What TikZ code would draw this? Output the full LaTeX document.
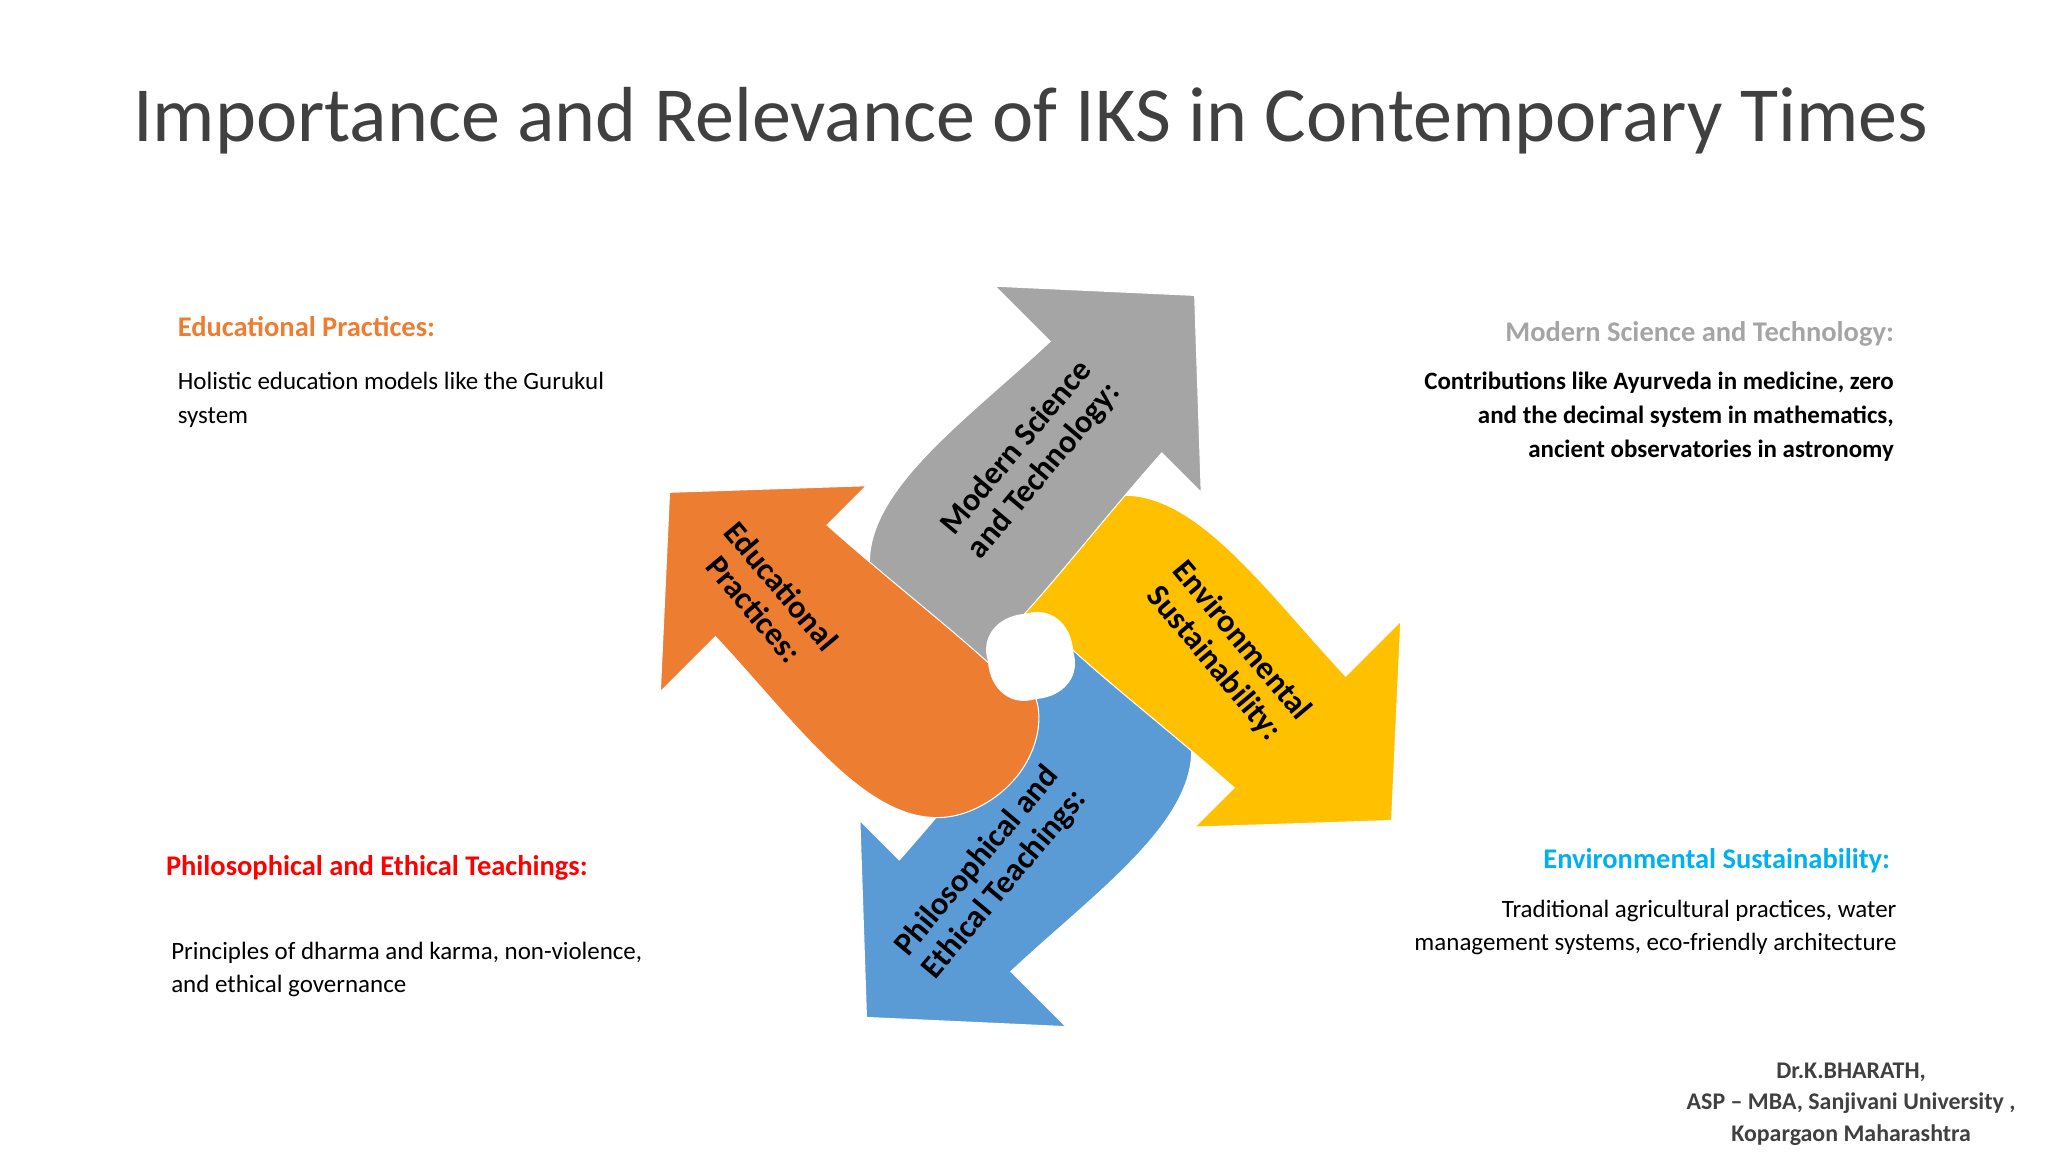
\documentclass[tikz,border=0pt]{standalone}
\usepackage{fontspec}
\setmainfont{Carlito}
\usetikzlibrary{positioning}
\definecolor{edorange}{HTML}{ED7D31}
\definecolor{scigray}{HTML}{A5A5A5}
\definecolor{envyellow}{HTML}{FFC000}
\definecolor{phiblue}{HTML}{5B9BD5}
\definecolor{envcyan}{HTML}{00B0F0}
\definecolor{titlegray}{HTML}{404040}
\tikzset{
  heading/.style={font=\fontsize{8.1}{9}\selectfont\bfseries},
  bodytext/.style={font=\fontsize{7.1}{9.6}\selectfont, text=black},
  arrowtext/.style={font=\fontsize{9.2}{10.2}\selectfont\bfseries, align=center, text=black},
  swirl/.style={draw=white, line width=0.3pt}
}
% one arrow of the pinwheel, in coordinates around the centre
\newcommand{\swirlarrow}{%
  (15,-240) .. controls (-60,-170) and (-150,-110) .. (-115,-40)
  .. controls (-95,0) and (-55,12) .. (-32,4)
  .. controls (-38,-15) and (-25,-30) .. (-5,-32)
  .. controls (25,-65) and (60,-110) .. (100,-155)
  -- (130,-125) -- (125,-275) -- (-27,-282) -- cycle}
\begin{document}
\begin{tikzpicture}[x=0.01313cm, y=-0.01313cm]
\path [use as bounding box] (0,0) rectangle (1560,877);

% TITLE
\node (title) at (785,92) {\fontsize{22.2}{26}\selectfont\color{titlegray}Importance and Relevance of IKS in Contemporary Times};

% ARROWS
\begin{scope}[shift={(785,500)}]
  \fill [swirl, fill=phiblue, rotate=180] \swirlarrow;
  \fill [swirl, fill=envyellow, rotate=-90] \swirlarrow;
  \fill [swirl, fill=scigray] \swirlarrow;
  \fill [swirl, fill=edorange, rotate=90] \swirlarrow;
\end{scope}

% ARROW LABELS
\node [arrowtext, rotate=50] (sciarrow) at (785,350) {Modern Science\\and Technology:};
\node [arrowtext, rotate=-50] (edarrow) at (585,455) {Educational\\Practices:};
\node [arrowtext, rotate=-50] (envarrow) at (935,497) {Environmental\\Sustainability:};
\node [arrowtext, rotate=50] (phiarrow) at (755,665) {Philosophical and\\Ethical Teachings:};

% TEXT BLOCKS
\node [heading, anchor=west, text=edorange] (edhead) at (126,249) {Educational Practices:};
\node [bodytext, anchor=north west, align=left] (edbody) at (126,274) {Holistic education models like the Gurukul\\system};

\node [heading, anchor=east, text=scigray] (scihead) at (1452,254) {Modern Science and Technology:};
\node [bodytext, anchor=north east, align=right, font=\fontsize{7.1}{9.6}\selectfont\bfseries] (scibody) at (1452,274) {Contributions like Ayurveda in medicine, zero\\and the decimal system in mathematics,\\ancient observatories in astronomy};

\node [heading, anchor=west, text=red] (phihead) at (117,661) {Philosophical and Ethical Teachings:};
\node [bodytext, anchor=north west, align=left] (phibody) at (121,708) {Principles of dharma and karma, non-violence,\\and ethical governance};

\node [heading, anchor=east, text=envcyan] (envhead) at (1449,656) {Environmental Sustainability:};
\node [bodytext, anchor=north east, align=right] (envbody) at (1454,676) {Traditional agricultural practices, water\\management systems, eco-friendly architecture};

% SIGNATURE
\node [font=\fontsize{6.8}{9}\selectfont\bfseries, text=titlegray, align=center] (sign) at (1410,841) {Dr.K.BHARATH,\\ASP -- MBA, Sanjivani University ,\\Kopargaon Maharashtra};

\end{tikzpicture}
\end{document}
